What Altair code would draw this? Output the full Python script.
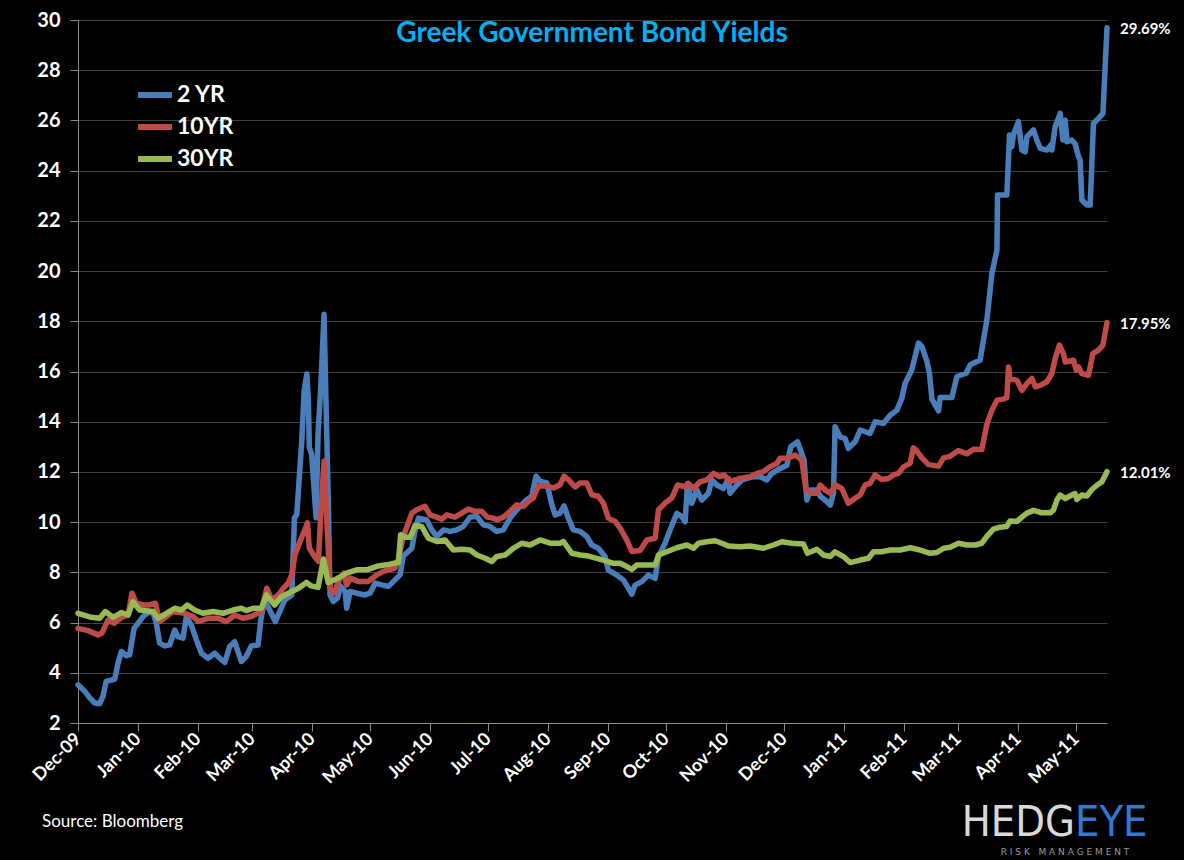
import altair as alt
import pandas as pd

# ---- data (day offset from 2009-12-01, yield %) ----
START = "2009-12-01"
END = "2011-05-17"
SERIES = ["2 YR", "10YR", "30YR"]
COLORS = ["#4A7EBB", "#BE4B48", "#98B954"]
Y_TICKS = [2, 4, 6, 8, 10, 12, 14, 16, 18, 20, 22, 24, 26, 28, 30]
TITLE = "Greek Government Bond Yields"
SOURCE = "Source: Bloomberg"

Y2 = [(0.0,3.52),(3.5,3.26),(6.1,3.0),(8.6,2.8),(11.2,2.77),(12.9,3.06),(14.6,3.66),(19.0,3.75),
      (20.7,4.38),(22.4,4.85),(25.0,4.68),(26.7,4.72),(29.0,5.77),(31.0,5.97),(33.6,6.24),(36.2,6.4),
      (38.8,6.4),(40.5,5.97),(42.2,5.18),(44.8,5.07),(47.4,5.11),(50.0,5.7),(51.7,5.44),(54.3,5.38),
      (56.0,6.24),(58.6,5.9),(61.2,5.31),(63.8,4.78),(67.2,4.58),(70.7,4.78),(73.3,4.58),(75.9,4.41),
      (78.4,5.05),(81.0,5.24),(82.7,4.85),(84.4,4.45),(87.0,4.65),(89.6,5.07),(93.1,5.11),(94.5,6.1),
      (96.5,6.9),(99.1,6.5),(102.0,6.04),(104.3,6.44),(106.9,6.9),(110.5,7.1),(111.9,10.17),(113.1,10.3),
      (115.7,13.24),(116.9,15.24),(118.3,15.9),(119.1,14.84),(119.6,12.97),(120.8,12.7),(122.0,11.37),
      (123.1,10.17),(124.1,13.5),(125.5,15.37),(127.2,18.28),(128.2,14.84),(129.4,10.84),(130.3,7.1),
      (132.0,6.84),(134.1,6.97),(135.8,7.44),(138.1,7.24),(138.9,6.57),(140.7,7.24),(144.1,7.17),
      (148.4,7.1),(151.0,7.17),(153.6,7.57),(157.0,7.5),(160.5,7.44),(164.8,7.77),(166.5,7.9),(168.2,8.65),
      (172.6,8.96),(174.3,9.69),(176.0,10.16),(180.3,10.09),(182.9,9.69),(185.5,9.43),(188.9,9.69),
      (192.4,9.63),(195.8,9.69),(199.2,9.83),(202.7,10.2),(206.2,10.23),(209.6,9.89),(213.0,9.83),
      (216.5,9.63),(219.9,9.69),(223.4,10.16),(226.9,10.49),(231.1,10.83),(234.6,11.03),(236.8,11.83),
      (238.9,11.63),(242.4,11.56),(245.0,10.69),(246.7,10.29),(249.2,10.36),(251.3,10.65),(253.5,10.16),
      (256.1,9.69),(259.6,9.63),(263.0,9.43),(265.6,9.09),(269.0,8.96),(272.5,8.63),(274.2,8.09),
      (278.6,7.89),(282.0,7.69),(284.6,7.36),(286.3,7.13),(288.0,7.49),(291.5,7.63),(294.9,7.89),
      (298.4,7.76),(300.1,8.63),(303.5,9.16),(306.1,9.69),(309.6,10.35),(312.2,10.22),(313.9,10.02),
      (315.1,11.54),(317.3,10.75),(319.9,11.28),(322.5,10.88),(325.9,11.15),(327.7,11.68),(330.3,11.48),
      (333.7,11.34),(336.3,11.74),(337.1,11.15),(340.6,11.48),(343.2,11.68),(349.2,11.81),(352.7,11.81),
      (356.1,11.68),(358.7,11.94),(363.0,12.14),(366.5,12.27),(368.5,13.0),(372.0,13.2),(375.4,12.47),
      (376.8,10.88),(378.5,11.28),(382.0,11.28),(384.0,11.01),(386.3,10.88),(388.9,10.68),(390.6,11.15),
      (391.4,13.8),(394.0,13.4),(396.6,13.33),(398.3,12.94),(401.8,13.2),(404.4,13.67),(407.0,13.6),
      (409.5,13.53),(412.1,14.0),(416.4,13.93),(419.9,14.26),(423.4,14.46),(425.9,14.93),(427.6,15.52),
      (431.1,16.07),(434.5,17.13),(436.3,17.0),(438.9,16.4),(440.2,15.93),(441.5,14.9),(444.9,14.43),
      (445.7,14.96),(451.8,14.96),(454.4,15.8),(459.2,15.93),(461.3,16.27),(466.4,16.46),(469.9,18.06),
      (472.5,19.91),(475.1,20.84),(475.4,23.03),(480.2,23.03),(481.6,25.42),(482.8,24.95),(483.6,25.42),
      (486.2,25.95),(488.0,24.82),(489.7,24.75),(490.6,25.35),(494.0,25.62),(495.7,25.22),(497.5,24.89),
      (500.9,24.82),(503.0,25.02),(503.5,24.82),(505.2,25.75),(507.8,26.28),(509.2,25.22),(510.4,26.01),
      (511.3,25.15),(513.8,25.22),(515.5,25.08),(517.3,24.55),(518.1,24.42),(519.0,22.83),(521.6,22.63),
      (523.3,22.63),(525.0,25.88),(527.6,26.08),(529.9,26.28),(532.0,29.69)]

Y10 = [(0.0,5.77),(5.2,5.68),(10.3,5.51),(12.4,5.58),(15.5,6.1),(18.6,5.97),(20.7,6.1),(23.3,6.24),
       (25.9,6.3),(27.9,7.17),(30.1,6.77),(33.6,6.7),(37.1,6.7),(40.0,6.77),(42.2,6.04),(45.7,6.24),
       (49.1,6.44),(55.2,6.37),(59.5,6.24),(62.1,6.04),(67.2,6.17),(72.4,6.17),(76.7,6.04),(81.0,6.3),
       (85.3,6.17),(89.6,6.24),(94.8,6.44),(97.6,7.37),(100.2,6.9),(103.6,7.1),(106.2,7.37),(108.7,7.57),
       (110.5,7.9),(112.2,8.7),(114.8,9.24),(117.0,9.64),(118.6,9.97),(119.6,8.97),(121.7,8.7),(124.3,8.44),
       (125.5,10.3),(127.2,12.44),(128.6,10.17),(130.3,7.37),(132.4,7.17),(135.5,7.77),(137.5,7.97),
       (138.9,7.5),(140.7,7.77),(144.9,7.64),(150.1,7.64),(154.5,7.9),(157.9,8.04),(163.9,8.17),(165.6,8.5),
       (168.2,9.43),(172.6,10.36),(175.1,10.49),(179.4,10.63),(182.0,10.29),(185.5,10.2),(188.1,10.12),
       (190.7,10.29),(194.9,10.2),(198.4,10.36),(201.8,10.52),(205.3,10.43),(208.8,10.43),(211.6,10.2),
       (214.8,10.16),(216.5,10.09),(219.9,10.2),(223.4,10.43),(226.9,10.69),(230.3,10.63),(232.9,10.83),
       (235.4,10.96),(238.0,11.43),(242.4,11.45),(245.8,11.36),(249.2,11.49),(251.3,11.83),(253.5,11.69),
       (257.0,11.4),(259.6,11.56),(263.0,11.56),(265.6,11.09),(269.0,11.03),(271.6,10.76),(274.2,10.16),
       (277.7,10.03),(280.3,9.76),(283.7,9.29),(286.3,8.83),(290.6,8.87),(294.1,9.29),(298.4,9.36),
       (300.1,10.49),(303.5,10.76),(307.0,10.96),(310.0,11.48),(313.9,11.41),(315.6,11.54),(318.2,11.34),
       (321.6,11.61),(325.1,11.68),(328.5,11.94),(331.6,11.81),(334.0,11.88),(337.1,11.61),(342.3,11.74),
       (347.5,11.81),(351.0,11.94),(354.4,12.01),(357.8,12.21),(361.3,12.34),(363.0,12.54),(366.5,12.54),
       (370.8,12.67),(374.2,12.47),(376.4,11.28),(379.4,11.15),(382.0,11.15),(383.7,11.48),(386.3,11.28),
       (388.9,11.15),(391.4,11.48),(394.9,11.34),(398.3,10.75),(401.8,10.95),(404.4,11.08),(407.0,11.48),
       (409.5,11.54),(412.1,11.88),(415.6,11.7),(419.0,11.74),(421.6,11.88),(424.2,11.94),(426.8,12.2),
       (430.2,12.34),(431.9,12.96),(433.7,12.83),(436.3,12.56),(439.7,12.29),(444.9,12.23),(447.5,12.56),
       (450.9,12.62),(455.2,12.85),(459.5,12.72),(463.0,12.9),(467.3,12.89),(469.9,13.9),(472.5,14.46),
       (475.1,14.86),(478.5,14.9),(480.2,14.96),(481.1,16.18),(481.9,15.72),(485.4,15.65),(488.0,15.25),
       (490.6,15.52),(493.2,15.72),(494.9,15.39),(497.5,15.45),(500.9,15.59),(503.5,15.92),(505.2,16.51),
       (507.4,17.05),(509.5,16.71),(510.4,16.38),(514.7,16.45),(516.1,16.05),(517.3,16.18),(519.0,15.92),
       (522.4,15.85),(524.7,16.71),(527.6,16.85),(529.9,17.05),(532.0,17.95)]

Y30 = [(0.0,6.37),(6.9,6.21),(11.2,6.17),(14.1,6.44),(18.1,6.21),(22.4,6.4),(25.9,6.3),(28.4,6.83),
       (31.9,6.5),(38.8,6.44),(41.4,6.17),(45.7,6.37),(50.0,6.57),(53.4,6.5),(56.5,6.7),(60.3,6.5),
       (64.6,6.37),(69.8,6.44),(75.0,6.37),(80.2,6.5),(84.4,6.57),(87.0,6.48),(90.5,6.57),(94.8,6.57),
       (97.4,7.1),(101.7,6.7),(105.1,7.03),(110.3,7.23),(113.8,7.36),(118.1,7.6),(120.6,7.46),(124.1,7.4),
       (126.9,8.53),(129.3,7.6),(132.7,7.7),(138.9,7.97),(144.1,8.1),(149.3,8.1),(154.5,8.24),(159.6,8.3),
       (165.7,8.4),(166.8,9.5),(169.1,9.4),(171.7,9.4),(174.3,9.87),(177.7,9.83),(181.1,9.36),(185.5,9.23),
       (189.8,9.29),(194.1,8.89),(198.4,8.92),(202.7,8.89),(206.2,8.69),(210.5,8.56),(213.9,8.43),
       (216.5,8.63),(220.8,8.69),(225.1,8.96),(229.4,9.16),(233.7,9.09),(238.9,9.29),(244.1,9.16),
       (249.2,9.16),(251.0,9.23),(255.3,8.76),(259.6,8.69),(263.9,8.65),(268.2,8.56),(272.5,8.47),
       (276.8,8.36),(280.3,8.36),(283.7,8.23),(286.3,8.12),(288.9,8.29),(294.1,8.29),(298.4,8.29),
       (300.1,8.69),(304.4,8.82),(309.6,8.98),(314.8,9.09),(318.2,8.96),(320.8,9.16),(325.1,9.22),
       (329.4,9.26),(332.9,9.16),(336.3,9.05),(342.3,9.02),(347.5,9.05),(354.4,8.96),(359.5,9.09),
       (363.9,9.22),(369.1,9.16),(375.1,9.13),(377.1,8.76),(382.0,8.92),(385.4,8.69),(388.9,8.63),
       (391.4,8.82),(395.7,8.63),(399.2,8.39),(404.4,8.49),(408.7,8.56),(411.3,8.82),(415.6,8.82),
       (419.9,8.89),(425.1,8.89),(430.2,8.98),(435.4,8.89),(440.6,8.76),(444.0,8.79),(447.5,8.96),
       (450.9,9.0),(455.2,9.16),(459.5,9.09),(463.8,9.09),(467.3,9.16),(469.9,9.43),(473.3,9.72),
       (476.8,9.8),(480.2,9.83),(481.9,10.05),(485.4,10.03),(488.0,10.2),(490.6,10.36),(494.0,10.47),
       (498.3,10.37),(502.6,10.37),(504.3,10.48),(506.1,10.88),(507.8,11.08),(510.4,10.94),(513.8,11.08),
       (515.5,11.14),(516.4,10.9),(519.0,11.08),(521.6,11.04),(524.2,11.3),(526.8,11.47),(529.4,11.61),
       (532.0,12.01)]

# ---- tidy table ----
rows = []
for name, pts in zip(SERIES, [Y2, Y10, Y30]):
    for d, v in pts:
        rows.append({"series": name,
                     "date": pd.Timestamp(START) + pd.to_timedelta(d, unit="D"),
                     "value": v})
df = pd.DataFrame(rows)
last = df.groupby("series", sort=False).tail(1).reset_index(drop=True)

FONT = "Lato"
x_scale = alt.Scale(domain=[alt.DateTime(year=2009, month=12, date=1),
                            alt.DateTime(year=2011, month=5, date=17)])
y_scale = alt.Scale(domain=[2, 30], nice=False, zero=False)
color_scale = alt.Scale(domain=SERIES, range=COLORS)

x_enc = alt.X("date:T", scale=x_scale, axis=alt.Axis(
    title=None, format="%b-%y", tickCount={"interval": "month", "step": 1},
    labelAngle=315, labelAlign="right", labelBaseline="middle", labelPadding=5,
    labelFont=FONT, labelFontSize=18, labelFontWeight="bold", labelColor="white",
    labelOverlap=False, labelFlush=False, labelBound=False,
    tickSize=8, tickColor="#8a8a8a", domainColor="#8a8a8a", grid=False))
y_enc = alt.Y("value:Q", scale=y_scale, axis=alt.Axis(
    title=None, values=Y_TICKS, labelFont=FONT, labelFontSize=20, labelFontWeight="bold",
    labelColor="white", labelPadding=10, tickSize=8, tickColor="#8a8a8a",
    domainColor="#8a8a8a", gridColor="#404040", gridWidth=1))

base = alt.Chart(df).mark_line(strokeWidth=5.5, strokeJoin="round", strokeCap="round").encode(
    x=x_enc, y=y_enc,
    color=alt.Color("series:N", scale=color_scale, legend=alt.Legend(
        title=None, orient="none", legendX=57, legendY=55, symbolType="stroke",
        symbolSize=1150, symbolStrokeWidth=6, labelFont=FONT, labelFontSize=23,
        labelFontWeight="bold", labelColor="white", rowPadding=0, labelOffset=2,
        padding=0)))
lines = [base.transform_filter(alt.datum.series == s) for s in SERIES]

end_labels = alt.Chart(last).mark_text(
    align="left", baseline="middle", dx=13, dy=1, font=FONT, fontSize=15,
    fontWeight="bold", color="white").encode(
    x=alt.X("date:T", scale=x_scale), y=alt.Y("value:Q", scale=y_scale),
    text=alt.Text("label:N")).transform_calculate(
    label="format(datum.value, '.2f') + '%'")

title = alt.Chart(pd.DataFrame({"t": [TITLE]})).mark_text(
    align="center", baseline="middle", font=FONT, fontSize=28, fontWeight="bold",
    color="#00B0F0").encode(text="t:N", x=alt.value(514), y=alt.value(14))

source = alt.Chart(pd.DataFrame({"t": [SOURCE]})).mark_text(
    align="left", baseline="middle", font=FONT, fontSize=17, color="white").encode(
    text="t:N", x=alt.value(-36), y=alt.value(802))

logo_font = "Liberation Sans Narrow, DejaVu Sans Condensed, Roboto, sans-serif"
hedg = alt.Chart(pd.DataFrame({"t": ["HEDG"]})).mark_text(
    align="right", baseline="alphabetic", font=logo_font, fontSize=43,
    color="#d9d9d9").encode(text="t:N", x=alt.value(997), y=alt.value(816))
eye = alt.Chart(pd.DataFrame({"t": ["EYE"]})).mark_text(
    align="left", baseline="alphabetic", font=logo_font, fontSize=43,
    color="#2C7BD6").encode(text="t:N", x=alt.value(997), y=alt.value(816))
NB = "\u00a0"
risk_text = (NB * 1).join("RISK") + NB * 3 + (NB * 1).join("MANAGEMENT")
risk = alt.Chart(pd.DataFrame({"t": [risk_text]})).mark_text(
    align="center", baseline="middle", font="DejaVu Sans", fontSize=9,
    color="#9a9a9a").encode(text="t:N", x=alt.value(987), y=alt.value(832))

chart = alt.layer(*lines, end_labels, title, source, hedg, eye, risk).properties(
    width=1029, height=703,
    autosize=alt.AutoSizeParams(type="none"),
    padding={"left": 78, "top": 20, "right": 77, "bottom": 137},
    background="black",
).configure_view(stroke=None)

chart.save("out.html", embed_options={"renderer": "svg", "actions": False})
